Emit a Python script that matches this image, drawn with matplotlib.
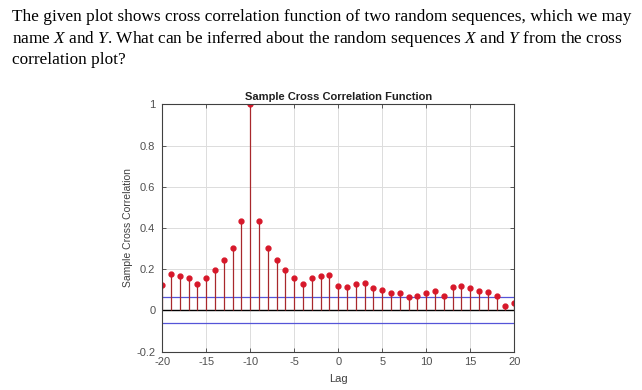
import matplotlib
matplotlib.use("Agg")
import matplotlib.pyplot as plt
import numpy as np

lags = list(range(-20, 21))
xcf = [0.124, 0.176, 0.167, 0.156, 0.128, 0.159, 0.195, 0.244, 0.304, 0.435,
       1.000,
       0.435, 0.304, 0.244, 0.195, 0.159, 0.128, 0.156, 0.167, 0.174,
       0.120, 0.114, 0.128, 0.135, 0.111, 0.099, 0.085, 0.086, 0.067, 0.070,
       0.083, 0.096, 0.072, 0.114, 0.117, 0.111, 0.093, 0.089, 0.068, 0.023, 0.037]
bound = 0.063
xticks = [-20, -15, -10, -5, 0, 5, 10, 15, 20]
xtick_labels = ["-20", "-15", "-10", "-5", "0", "5", "10", "15", "20"]
yticks = [-0.2, 0, 0.2, 0.4, 0.6, 0.8, 1]
ytick_labels = ["-0.2", "0", "0.2", "0.4", "0.6", "0.8", "1"]

question = ("The given plot shows cross correlation function of two random sequences, which we may\n"
            "name $\\mathit{X}$ and $\\mathit{Y}$. What can be inferred about the random sequences $\\mathit{X}$ and $\\mathit{Y}$ from the cross\n"
            "correlation plot?")

plt.rcParams['mathtext.fontset'] = 'custom'
plt.rcParams['mathtext.it'] = 'Liberation Serif:italic'
plt.rcParams['mathtext.rm'] = 'Liberation Serif'
plt.rcParams['axes.unicode_minus'] = False
plt.rcParams['font.family'] = ['Liberation Sans', 'DejaVu Sans']

fig = plt.figure(figsize=(6.42, 3.90), dpi=100)
fig.patch.set_facecolor('white')

fig.text(12/642, 1 - 9/390, question, fontsize=12.4, family='Liberation Serif',
         va='top', ha='left', color='black', linespacing=1.28)

ax = fig.add_axes([162.3/642, 1 - 351.7/390, (514.3-162.3)/642, (351.7-104.3)/390])

stem_color = '#a8282c'
marker_color = '#d7182a'
ml, sl, bl = ax.stem(lags, xcf, basefmt=' ')
plt.setp(sl, color=stem_color, linewidth=0.9)
plt.setp(ml, color=marker_color, markersize=3.5, marker='o')
ax.axhline(0, color='black', linewidth=1.0, zorder=1)
ax.axhline(bound, color='#5555d8', linewidth=0.9, zorder=1)
ax.axhline(-bound, color='#5555d8', linewidth=0.9, zorder=1)

ax.set_xlim(-20, 20)
ax.set_ylim(-0.2, 1)
ax.set_xticks(xticks)
ax.set_xticklabels(xtick_labels)
ax.set_yticks(yticks)
ax.set_yticklabels(ytick_labels)
ax.grid(True, color='#dcdcdc', linewidth=0.7)
ax.set_axisbelow(True)
ax.tick_params(direction='in', top=True, right=True, length=3, width=0.6,
               labelsize=8, colors='#404040', labelcolor='#505050')
ax.tick_params(axis='x', pad=4)
ax.tick_params(axis='y', pad=5)
for s in ax.spines.values():
    s.set_color('#404040')
    s.set_linewidth(0.8)

ax.set_title('Sample Cross Correlation Function', fontsize=8, fontweight='bold',
             color='#202020', pad=3)
ax.set_xlabel('Lag', fontsize=8, color='#404040', labelpad=5)
ax.set_ylabel('Sample Cross Correlation', fontsize=7.5, color='#404040', labelpad=2)

fig.savefig('out.png', dpi=100)
